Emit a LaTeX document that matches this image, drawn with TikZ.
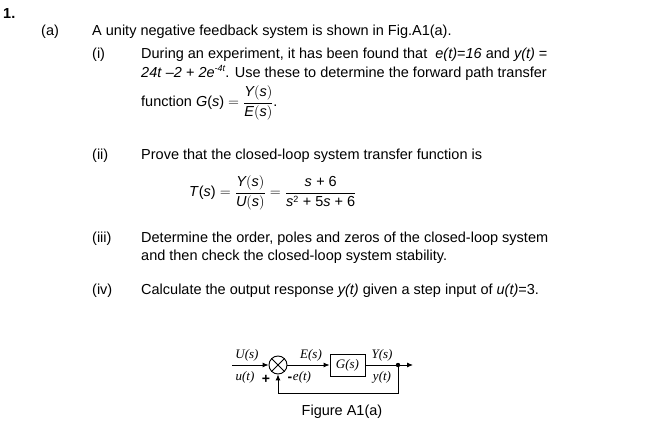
\documentclass[tikz,border=0pt]{standalone}
\usepackage{amsmath}
\usepackage{fontspec}
\setmainfont{Liberation Sans}
\newfontfamily\serifb{Liberation Serif}
\usetikzlibrary{arrows.meta}
\begin{document}
\begin{tikzpicture}[x=1pt,y=-1pt,
  txt/.style={anchor=west,inner sep=0pt,font=\fontsize{14.5}{16}\selectfont},
  bd/.style={inner sep=0pt,font=\serifb\itshape\fontsize{13}{14}\selectfont},
  ln/.style={line width=0.9pt},
  arr/.style={ln,-{Latex[length=6pt,width=5pt]}}]
\useasboundingbox (0,0) rectangle (665,438);
\node[txt,font=\bfseries\fontsize{14.5}{16}\selectfont] (n1) at (3,14) {1.};
\node[txt] (pa) at (41,32) {(a)};
\node[txt] (ta) at (92,32) {A unity negative feedback system is shown in Fig.A1(a).};
\node[txt] (pi) at (92,55) {(i)};
\node[txt] (t1) at (141,55) {During an experiment, it has been found that\ \ \textit{e(t)}=\textit{16} and \textit{y(t)} =};
\node[txt] (t2) at (141,73) {\textit{24t} –\textit{2} + \textit{2e}\raisebox{0.7ex}{\fontsize{9}{10}\selectfont\textit{-4t}}. Use these to determine the forward path transfer};
\node[txt] (t3) at (141,103) {function \textit{G}(\textit{s}) $=\dfrac{\mbox{\itshape Y}(\mbox{\itshape s})}{\mbox{\itshape E}(\mbox{\itshape s})}$.};
\node[txt] (pii) at (92,156) {(ii)};
\node[txt] (t4) at (141,156) {Prove that the closed-loop system transfer function is};
\node[txt] (t5) at (189,193) {\textit{T}(\textit{s}) $=\dfrac{\mbox{\itshape Y}(\mbox{\itshape s})}{\mbox{\itshape U}(\mbox{\itshape s})}=\dfrac{\mbox{\itshape s + }\mbox{6}}{\mbox{\itshape s}^{\mbox{\fontsize{9}{10}\selectfont 2}}\mbox{ + 5\itshape s\upshape{} + 6}}$};
\node[txt] (piii) at (92,239) {(iii)};
\node[txt] (t6) at (141,239) {Determine the order, poles and zeros of the closed-loop system};
\node[txt] (t7) at (141,257) {and then check the closed-loop system stability.};
\node[txt] (piv) at (92,291) {(iv)};
\node[txt] (t8) at (141,291) {Calculate the output response \textit{y(t)} given a step input of \textit{u(t)}=3.};
% block diagram
\coordinate (in) at (232,365);
\node[draw,circle,ln,minimum size=18pt,inner sep=0pt] (sum) at (278,365) {};
\draw[ln] (sum.north west)--(sum.south east) (sum.north east)--(sum.south west);
\node[draw,ln,minimum width=35pt,minimum height=22pt,inner sep=0pt,bd] (G) at (347.5,365) {G(s)};
\coordinate (out) at (413,365);
\coordinate (br) at (398,365);
\coordinate (fb) at (398,393);
\coordinate (fb2) at (278,393);
\draw[arr] (in)--(sum);
\draw[arr] (sum)--(G);
\draw[arr] (G)--(out);
\fill (br) circle (2.2pt);
\draw[ln] (br)--(fb)--(fb2);
\draw[arr] (fb2)--(sum);
\node[bd] (U) at (247,355) {U(s)};
\node[bd] (u) at (245,377) {u(t)};
\node[inner sep=0pt,font=\bfseries\fontsize{14}{14}\selectfont] (plus) at (266,379) {+};
\node[inner sep=0pt,font=\bfseries\fontsize{14}{14}\selectfont] (minus) at (290,379) {-};
\node[bd] (E) at (311,355) {E(s)};
\node[bd] (e) at (302,377) {e(t)};
\node[bd] (Y) at (382,355) {Y(s)};
\node[bd] (y) at (382,377) {y(t)};
\node[inner sep=0pt,font=\fontsize{14.5}{16}\selectfont] (cap) at (342,412) {Figure A1(a)};
\end{tikzpicture}
\end{document}
